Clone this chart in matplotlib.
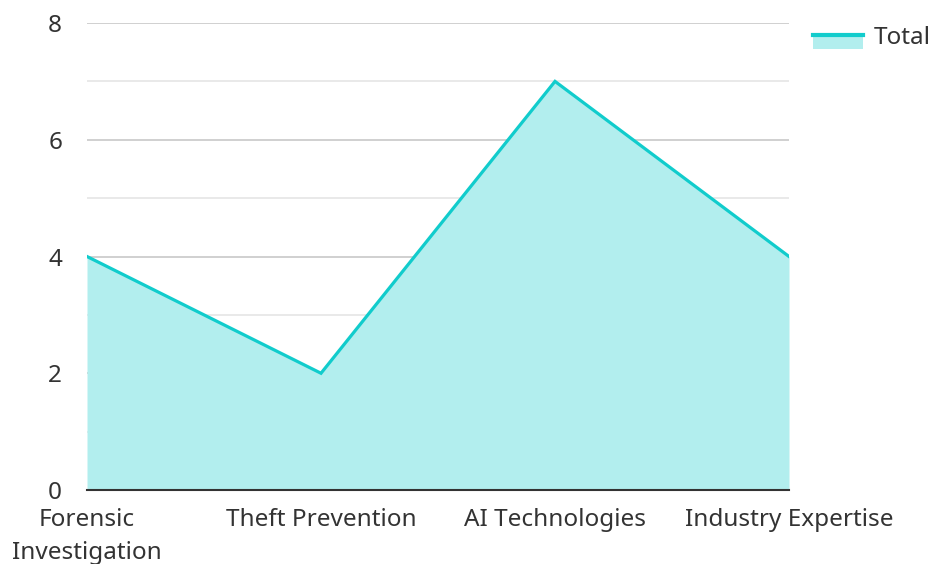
import matplotlib
matplotlib.use("Agg")
import matplotlib.pyplot as plt
from matplotlib.legend_handler import HandlerBase
from matplotlib.patches import Rectangle
from matplotlib.lines import Line2D

categories = ["Forensic\nInvestigation", "Theft Prevention", "AI Technologies", "Industry Expertise"]
total = [4, 2, 7, 4]
y_ticks = [0, 2, 4, 6, 8]
series_name = "Total"

LINE = "#11cccc"
FILL = "#b2eeee"
FS = 17.5

plt.rcParams['font.family'] = ['Noto Sans', 'DejaVu Sans']

fig = plt.figure(figsize=(9.3, 5.64), dpi=100)
ax = fig.add_axes([87/930, 1-490/564, (789-87)/930, (490-23)/564])

x = list(range(len(categories)))
ax.fill_between(x, total, 0, color=FILL, lw=0, zorder=2)
ax.plot(x, total, color=LINE, lw=2.3, zorder=3, solid_joinstyle='miter')

ax.set_xlim(0, len(categories) - 1)
ax.set_ylim(0, 8)
ax.set_yticks(y_ticks)
ax.set_yticks([1, 3, 5, 7], minor=True)
ax.grid(True, which='major', axis='y', color='#c4c4c4', lw=1.1, zorder=1)
ax.grid(True, which='minor', axis='y', color='#e3e3e3', lw=1.1, zorder=1)
ax.set_xticks(x)
ax.set_xticklabels(categories, fontsize=FS, color='#333333', linespacing=1.5)
ax.tick_params(axis='y', which='both', length=0, labelsize=FS, labelcolor='#333333', pad=18)
ax.tick_params(axis='x', length=0, pad=13)
for s in ['top', 'right', 'left']:
    ax.spines[s].set_visible(False)
ax.spines['bottom'].set_color('#333333')
ax.spines['bottom'].set_linewidth(1.5)
ax.spines['bottom'].set_zorder(4)


class AreaHandler(HandlerBase):
    def create_artists(self, legend, orig, xd, yd, w, h, fs, trans):
        cy = yd + h * 0.55
        r = Rectangle((xd, cy - h * 0.85), w, h * 0.95, fc=FILL, ec='none', transform=trans)
        l = Line2D([xd, xd + w], [cy, cy], color=LINE, lw=3, transform=trans)
        return [r, l]


handle = Rectangle((0, 0), 1, 1)
fig.legend([handle], [series_name], handler_map={Rectangle: AreaHandler()},
           loc='center left', bbox_to_anchor=(813/930, 1-38/564), frameon=False,
           borderpad=0, borderaxespad=0,
           fontsize=FS, handlelength=2.07, handletextpad=0.41, labelcolor='#333333')

fig.savefig("out.png", dpi=100)
